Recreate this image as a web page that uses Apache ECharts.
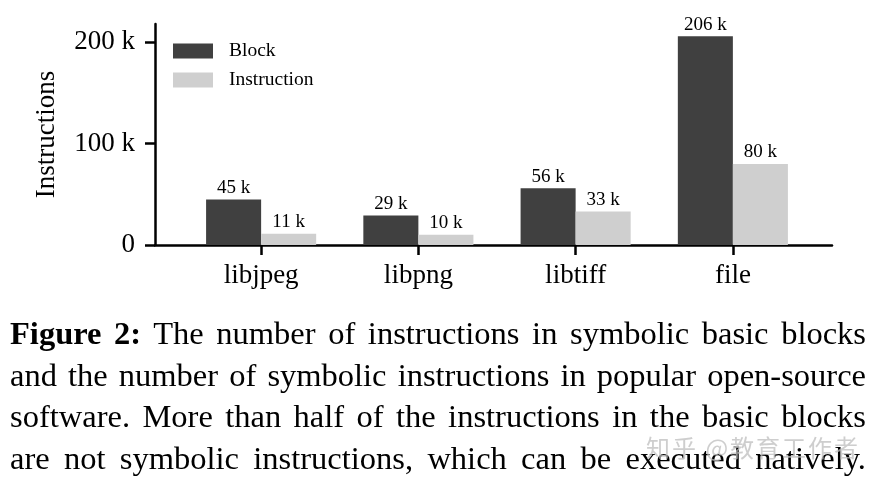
<!DOCTYPE html>
<html>
<head>
<meta charset="utf-8">
<script src="https://cdn.jsdelivr.net/npm/echarts@6/dist/echarts.min.js"></script>
<style>
  html, body { margin: 0; padding: 0; background: #fff; }
  #wrap { position: relative; width: 885px; height: 484px; overflow: hidden; }
  #chart { position: absolute; left: 0; top: 0; width: 885px; height: 484px; }
  #caption {
    position: absolute; left: 10px; top: 313px; width: 856px;
    font-family: 'Liberation Serif', 'Times New Roman', serif; font-size: 32.5px;
    line-height: 41.5px; color: #000;
  }
  #caption div { text-align: justify; text-align-last: justify; white-space: nowrap; }
  #wm {
    position: absolute; left: 646px; top: 429px;
    font-family: 'Noto Sans CJK SC', sans-serif; font-size: 24px; letter-spacing: 2px;
    color: rgba(190,190,190,0.75); white-space: nowrap;
  }
</style>
</head>
<body>
<div id="wrap">
  <div id="chart"></div>
  <div id="caption">
    <div><b>Figure 2:</b> The number of instructions in symbolic basic blocks</div>
    <div>and the number of symbolic instructions in popular open-source</div>
    <div>software. More than half of the instructions in the basic blocks</div>
    <div>are not symbolic instructions, which can be executed natively.</div>
  </div>
  <div id="wm">知乎 @教育工作者</div>
</div>
<script>
const categories = ['libjpeg', 'libpng', 'libtiff', 'file'];
const blockValues = [45, 29, 56, 206];
const instructionValues = [11, 10, 33, 80];
const yTicks = [0, 100, 200];
const seriesNames = ['Block', 'Instruction'];

const FONT = "'Liberation Serif', 'Times New Roman', serif";
const chart = echarts.init(document.getElementById('chart'), null, { renderer: 'canvas' });
const YMAX = 218;

const option = {
  animation: false,
  backgroundColor: '#fff',
  textStyle: { fontFamily: FONT, color: '#000' },
  legend: {
    orient: 'vertical',
    left: 173, top: 41, padding: 0,
    itemWidth: 40, itemHeight: 15, itemGap: 9,
    icon: 'rect',
    textStyle: { fontFamily: FONT, fontSize: 19.5, color: '#000', padding: [0, 0, 0, 11] },
    data: seriesNames
  },
  grid: [
    { left: 155, right: 53, top: 24, bottom: 239 },
    { left: 182.5, right: 73.5, top: 24, bottom: 239 }
  ],
  xAxis: [
    {
      gridIndex: 0, type: 'value', min: 0, max: 1,
      axisLine: { show: true, lineStyle: { color: '#000', width: 2.5 } },
      axisTick: { show: false }, axisLabel: { show: false }, splitLine: { show: false }
    },
    {
      gridIndex: 1, type: 'category', data: categories,
      axisLine: { show: false },
      axisTick: { show: true, alignWithLabel: true, length: 10, lineStyle: { color: '#000', width: 2.5 } },
      axisLabel: { fontFamily: FONT, fontSize: 27, color: '#000', margin: 17 },
      splitLine: { show: false }
    }
  ],
  yAxis: [
    {
      gridIndex: 0, type: 'value', min: 0, max: YMAX,
      name: 'Instructions', nameLocation: 'middle', nameGap: 95, nameRotate: 90,
      nameTextStyle: { fontFamily: FONT, fontSize: 27, color: '#000' },
      axisLine: { show: true, lineStyle: { color: '#000', width: 2.5 } },
      axisTick: { show: true, customValues: yTicks, length: 10, lineStyle: { color: '#000', width: 2.5 } },
      axisLabel: {
        customValues: yTicks, fontFamily: FONT, fontSize: 27, color: '#000', margin: 20,
        formatter: v => (v === 0 ? '0' : v + ' k')
      },
      splitLine: { show: false }
    },
    {
      gridIndex: 1, type: 'value', min: 0, max: YMAX, show: false,
      splitLine: { show: false }
    }
  ],
  series: [
    {
      name: seriesNames[0], type: 'bar', xAxisIndex: 1, yAxisIndex: 1,
      data: blockValues, barGap: '0%', barCategoryGap: '30%',
      itemStyle: { color: '#404040' },
      label: { show: true, position: 'top', distance: 2, fontFamily: FONT, fontSize: 19, color: '#000', formatter: '{c} k' }
    },
    {
      name: seriesNames[1], type: 'bar', xAxisIndex: 1, yAxisIndex: 1,
      data: instructionValues, barGap: '0%', barCategoryGap: '30%',
      itemStyle: { color: '#cfcfcf' },
      label: { show: true, position: 'top', distance: 2, fontFamily: FONT, fontSize: 19, color: '#000', formatter: '{c} k' }
    }
  ]
};
chart.setOption(option);
</script>
</body>
</html>
